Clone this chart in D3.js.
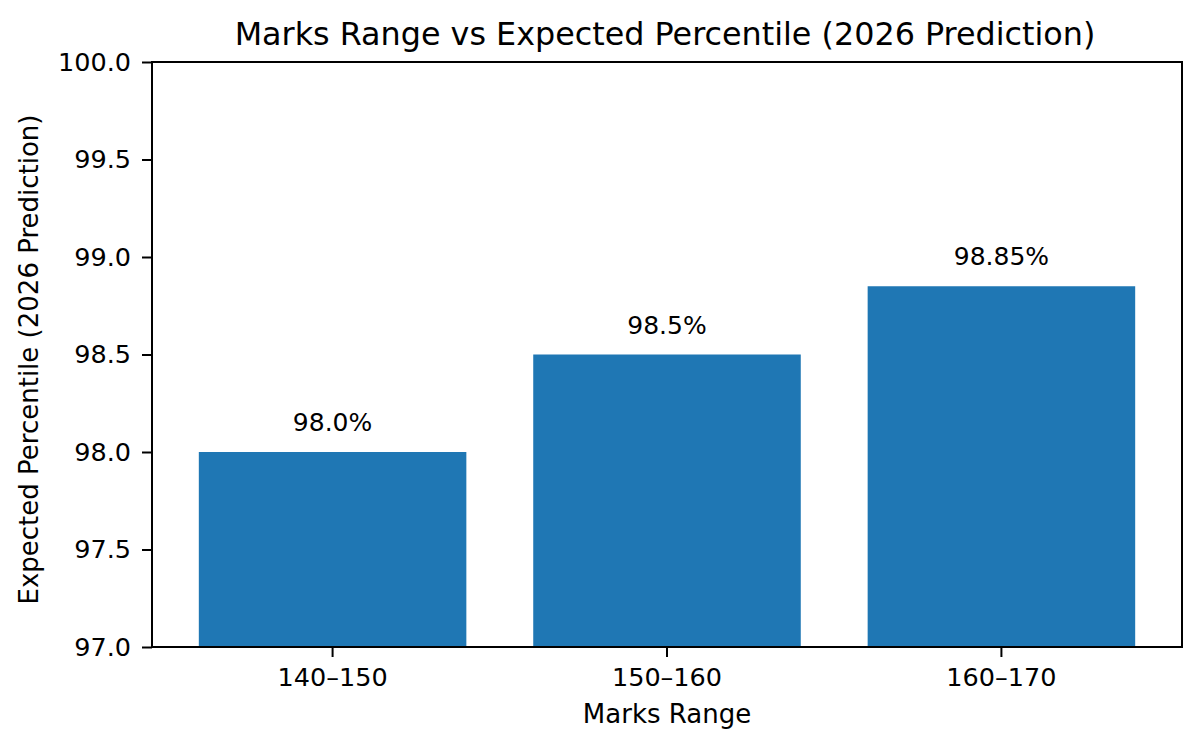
<!DOCTYPE html>
<html>
<head>
<meta charset="utf-8">
<script src="https://cdn.jsdelivr.net/npm/d3@7"></script>
<style>
  body { margin: 0; background: #fff; }
  text { font-family: "DejaVu Sans", sans-serif; fill: #000; }
</style>
</head>
<body>
<div id="chart"></div>
<script>
// chart data
const categories = ["140–150", "150–160", "160–170"];
const percentiles = [98.0, 98.5, 98.85];
const barLabels = ["98.0%", "98.5%", "98.85%"];
const yTicks = [97.0, 97.5, 98.0, 98.5, 99.0, 99.5, 100.0];

const width = 1200, height = 747;
const margin = {top: 62, bottom: 100, left: 152, right: 18};

const svg = d3.select('#chart')
    .append('svg')
    .attr('width', width)
    .attr('height', height);

// scales
const xScale = d3.scaleBand()
    .domain(categories)
    .range([margin.left, width - margin.right])
    .paddingInner(0.2)
    .paddingOuter(0.14);

const yScale = d3.scaleLinear()
    .domain([97, 100])
    .range([height - margin.bottom, margin.top]);

// bars
svg.append('g')
    .selectAll('rect')
    .data(percentiles)
    .enter().append('rect')
    .attr('x', (d, i) => xScale(categories[i]))
    .attr('y', d => yScale(d))
    .attr('width', xScale.bandwidth())
    .attr('height', d => yScale(97) - yScale(d))
    .attr('fill', '#1f77b4');

// value labels above bars
svg.append('g')
    .selectAll('text')
    .data(percentiles)
    .enter().append('text')
    .attr('x', (d, i) => xScale(categories[i]) + xScale.bandwidth() / 2)
    .attr('y', d => yScale(d) - 21)
    .attr('text-anchor', 'middle')
    .style('font-size', '25px')
    .text((d, i) => barLabels[i]);

// axes
const yAxis = svg.append('g')
    .attr('transform', `translate(${margin.left},0)`)
    .call(d3.axisLeft(yScale).tickValues(yTicks).tickFormat(d3.format('.1f'))
        .tickSize(10).tickPadding(11));

const xAxis = svg.append('g')
    .attr('transform', `translate(0,${height - margin.bottom})`)
    .call(d3.axisBottom(xScale).tickSize(10).tickPadding(11).tickSizeOuter(0));

[xAxis, yAxis].forEach(ax => {
    ax.selectAll('text').style('font-size', '25.5px').attr('fill', '#000')
        .style('font-family', '"DejaVu Sans", sans-serif');
    ax.selectAll('line').attr('stroke', '#000').attr('stroke-width', 2);
    ax.select('.domain').remove();
});

// frame around the plot area
svg.append('rect')
    .attr('x', margin.left)
    .attr('y', margin.top)
    .attr('width', width - margin.right - margin.left)
    .attr('height', height - margin.bottom - margin.top)
    .attr('fill', 'none')
    .attr('stroke', '#000')
    .attr('stroke-width', 2);

// title
svg.append('text')
    .attr('x', 665)
    .attr('y', 45)
    .attr('text-anchor', 'middle')
    .style('font-size', '31.8px')
    .text('Marks Range vs Expected Percentile (2026 Prediction)');

// x-axis label
svg.append('text')
    .attr('x', (margin.left + width - margin.right) / 2)
    .attr('y', 723)
    .attr('text-anchor', 'middle')
    .style('font-size', '26px')
    .text('Marks Range');

// y-axis label
svg.append('text')
    .attr('transform', `translate(38,${(margin.top + height - margin.bottom) / 2 + 5}) rotate(-90)`)
    .attr('text-anchor', 'middle')
    .style('font-size', '26px')
    .text('Expected Percentile (2026 Prediction)');
</script>
</body>
</html>
